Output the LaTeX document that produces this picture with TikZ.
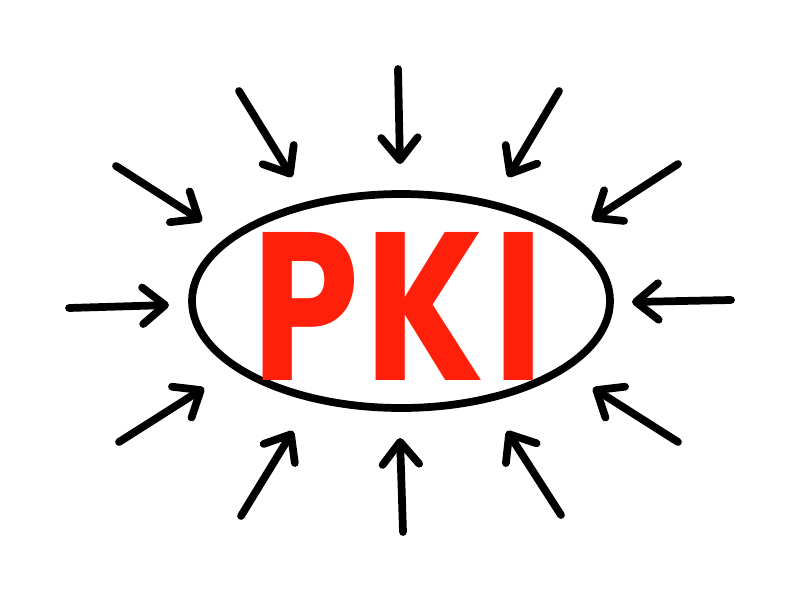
\documentclass[tikz,border=0pt]{standalone}
\usepackage{fontspec}
\newfontfamily\pkifont{Poppins}
\usetikzlibrary{arrows.meta}
\definecolor{pkired}{RGB}{255,32,12}
\tikzset{
  ring/.style={draw=black, line width=5.5pt},
  inarrow/.style={draw=black, line width=5.5pt, line cap=round,
    -{Straight Barb[length=16pt,width=26pt,round]}},
  label/.style={text=pkired, font=\pkifont\bfseries\fontsize{150}{150}\selectfont,
    inner sep=0pt, xscale=0.81}
}
\begin{document}
\begin{tikzpicture}[x=0.025cm, y=-0.025cm]
 \useasboundingbox (0,0) rectangle (800,605);

 % the ellipse and its text
 \draw [ring] (401,301) ellipse (209 and 107);
 \node [label] (pki) at (398,306) {P\kern0.04em K\kern0.05em I};

 % arrow ends
 \coordinate (t1) at (398,69);   \coordinate (h1) at (400,164);
 \coordinate (t2) at (239,91);   \coordinate (h2) at (292,177);
 \coordinate (t3) at (116,166);  \coordinate (h3) at (202,221);
 \coordinate (t4) at (69,308);   \coordinate (h4) at (169,305);
 \coordinate (t5) at (119,442);  \coordinate (h5) at (204,388);
 \coordinate (t6) at (241,516);  \coordinate (h6) at (293,431);
 \coordinate (t7) at (403,532);  \coordinate (h7) at (400,438);
 \coordinate (t8) at (561,515);  \coordinate (h8) at (507,431);
 \coordinate (t9) at (678,442);  \coordinate (h9) at (593,388);
 \coordinate (t10) at (731,300); \coordinate (h10) at (632,302);
 \coordinate (t11) at (678,164); \coordinate (h11) at (592,220);
 \coordinate (t12) at (559,91);  \coordinate (h12) at (508,177);

 \draw [inarrow] (t1) -- (h1);
 \draw [inarrow] (t2) -- (h2);
 \draw [inarrow] (t3) -- (h3);
 \draw [inarrow] (t4) -- (h4);
 \draw [inarrow] (t5) -- (h5);
 \draw [inarrow] (t6) -- (h6);
 \draw [inarrow] (t7) -- (h7);
 \draw [inarrow] (t8) -- (h8);
 \draw [inarrow] (t9) -- (h9);
 \draw [inarrow] (t10) -- (h10);
 \draw [inarrow] (t11) -- (h11);
 \draw [inarrow] (t12) -- (h12);
\end{tikzpicture}
\end{document}
